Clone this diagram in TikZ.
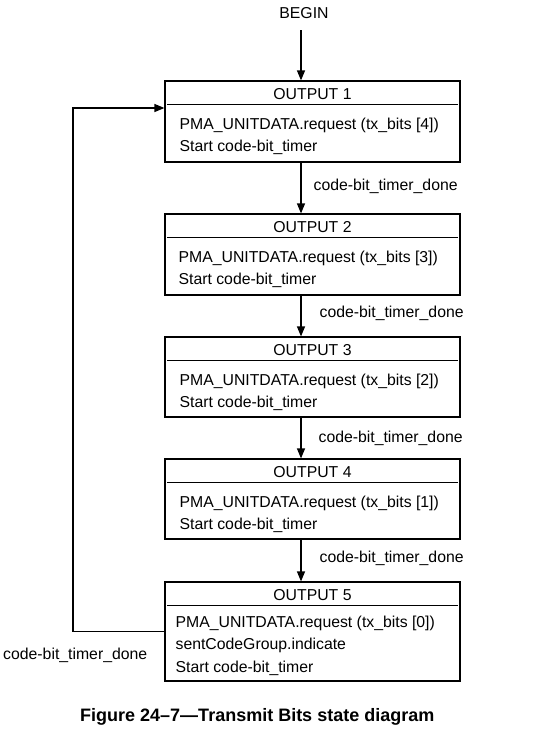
\documentclass[tikz,border=0pt]{standalone}
\usepackage{fontspec}
\setmainfont{Liberation Sans}
\usetikzlibrary{calc}
\usetikzlibrary{arrows.meta}

\tikzset{
  state/.style={draw,rectangle,line width=1.2pt,minimum width=295pt,inner sep=0pt},
  statetitle/.style={anchor=base,inner sep=0pt,font=\fontsize{15.8}{18}\selectfont},
  statebody/.style={anchor=base west,align=left,inner sep=0pt,font=\fontsize{15.8}{21.5}\selectfont},
  trans/.style={-{Triangle[length=10pt,width=8pt]},line width=1.2pt},
  cond/.style={anchor=west,inner sep=0pt,font=\fontsize{15.8}{18}\selectfont}
}

\begin{document}
\begin{tikzpicture}[x=1pt,y=-1pt]
\useasboundingbox (0,0) rectangle (539,742);

% Start
\node[cond,anchor=center] (begin) at (304,13) {BEGIN};
\coordinate (ax) at (301,30);

% Output boxes
\node[state,minimum height=81pt] (out1) at (312.5,121.5) {};
\node[state,minimum height=81pt] (out2) at (312.5,254.5) {};
\node[state,minimum height=80pt] (out3) at (312.5,377) {};
\node[state,minimum height=80pt] (out4) at (312.5,499) {};
\node[state,minimum height=99pt] (out5) at (312.5,631.5) {};

% Titles and separators
\foreach \i in {1,...,5}{
  \node[statetitle] (title\i) at ($(out\i.north)+(0,19.5)$) {OUTPUT \i};
  \draw[line width=0.9pt] ($(out\i.north west)+(3,24)$) -- ($(out\i.north east)+(-3,24)$);
}

% Actions (anchored at the last line)
\node[statebody] (act1) at ($(out1.north west)+(15,71)$) {PMA\_UNITDATA.request (tx\_bits [4])\\Start code-bit\_timer};
\node[statebody] (act2) at ($(out2.north west)+(14,71)$) {PMA\_UNITDATA.request (tx\_bits [3])\\Start code-bit\_timer};
\node[statebody] (act3) at ($(out3.north west)+(15,71)$) {PMA\_UNITDATA.request (tx\_bits [2])\\Start code-bit\_timer};
\node[statebody] (act4) at ($(out4.north west)+(15,71)$) {PMA\_UNITDATA.request (tx\_bits [1])\\Start code-bit\_timer};
\node[statebody,font=\fontsize{15.8}{22.5}\selectfont] (act5) at ($(out5.north west)+(11,91)$) {PMA\_UNITDATA.request (tx\_bits [0])\\sentCodeGroup.indicate\\Start code-bit\_timer};

% Arrows
\draw[trans] (ax) -- (ax |- out1.north);
\draw[trans] (out1.south -| ax) -- node[cond,xshift=12pt,yshift=2pt] (c1) {code-bit\_timer\_done} (out2.north -| ax);
\draw[trans] (out2.south -| ax) -- node[cond,xshift=18pt,yshift=3pt] (c2) {code-bit\_timer\_done} (out3.north -| ax);
\draw[trans] (out3.south -| ax) -- node[cond,xshift=17pt] (c3) {code-bit\_timer\_done} (out4.north -| ax);
\draw[trans] (out4.south -| ax) -- node[cond,xshift=18pt,yshift=2pt] (c4) {code-bit\_timer\_done} (out5.north -| ax);

% Loop back
\coordinate (loop) at (73,108);
\draw[trans] (out5.west) -| (loop) -- (loop -| out1.west);
\node[cond] (c5) at (3,655) {code-bit\_timer\_done};

% Caption
\node[anchor=west,inner sep=0pt,font=\fontsize{18}{20}\selectfont\bfseries] (caption) at (80,717) {Figure 24–7—Transmit Bits state diagram};
\end{tikzpicture}
\end{document}
